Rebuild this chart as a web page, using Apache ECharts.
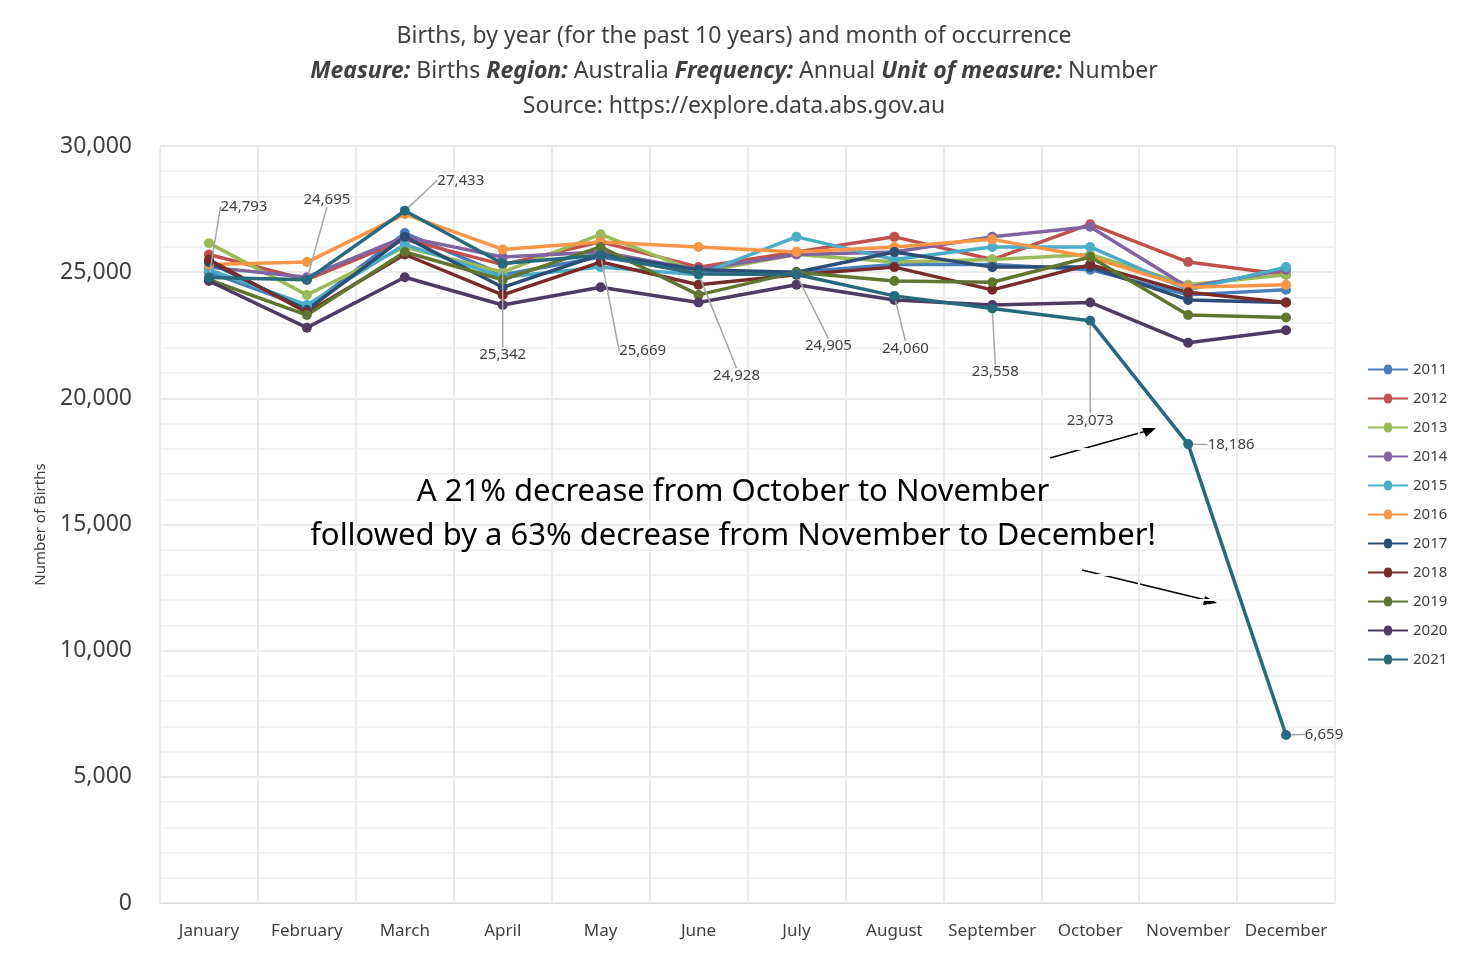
<!DOCTYPE html>
<html>
<head>
<meta charset="utf-8">
<script src="https://cdn.jsdelivr.net/npm/echarts@6/dist/echarts.min.js"></script>
<style>html,body{margin:0;padding:0;background:#fff}#chart{width:1468px;height:956px}</style>
</head>
<body>
<div id="chart"></div>
<script>
const months = ['January', 'February', 'March', 'April', 'May', 'June', 'July', 'August', 'September', 'October', 'November', 'December'];
const years = ['2011', '2012', '2013', '2014', '2015', '2016', '2017', '2018', '2019', '2020', '2021'];

const b2011 = [25000, 23600, 26550, 24900, 25600, 25000, 25000, 25300, 25300, 25100, 24100, 24300];
const b2012 = [25700, 24700, 26300, 25300, 26200, 25200, 25800, 26400, 25500, 26900, 25400, 24900];
const b2013 = [26150, 24100, 26000, 25000, 26500, 25000, 25700, 25400, 25500, 25700, 24500, 24900];
const b2014 = [25200, 24800, 26400, 25600, 25800, 25100, 25700, 25800, 26400, 26800, 24400, 25100];
const b2015 = [25100, 23700, 26100, 24800, 25200, 24900, 26400, 25500, 26000, 26000, 24300, 25200];
const b2016 = [25300, 25400, 27300, 25900, 26200, 26000, 25800, 26000, 26300, 25600, 24400, 24500];
const b2017 = [25400, 23500, 26400, 24400, 25700, 25100, 25000, 25800, 25200, 25200, 23900, 23800];
const b2018 = [25500, 23400, 25700, 24100, 25400, 24500, 24900, 25200, 24300, 25300, 24200, 23800];
const b2019 = [24700, 23300, 25800, 24700, 26000, 24100, 25000, 24650, 24600, 25600, 23300, 23200];
const b2020 = [24650, 22800, 24800, 23700, 24400, 23800, 24500, 23900, 23700, 23800, 22200, 22700];
const b2021 = [24793, 24695, 27433, 25342, 25669, 24928, 24905, 24060, 23558, 23073, 18186, 6659];

const seriesData = [b2011, b2012, b2013, b2014, b2015, b2016, b2017, b2018, b2019, b2020, b2021];
const colors = ['#4a7ebb', '#c0504d', '#9bbb59', '#8064a2', '#4bacc6', '#f79646', '#2c4d75', '#772c2a', '#5f7530', '#4d3b62', '#276a7c'];

// label offsets for 2021 data labels (pixels)
const labelOffsets = [[35, -67], [20, -77], [56, -27], [0, 95], [42, 99], [38, 105], [32, 75], [11, 56], [3, 67], [0, 103], [43, 4], [38, 3]];

const myChart = echarts.init(document.getElementById('chart'));
const font = 'Noto Sans';

const series = years.map((y, i) => {
    const s = {
        name: y,
        type: 'line',
        data: seriesData[i],
        symbol: 'circle',
        symbolSize: 10,
        z: i === 10 ? 5 : 2,
        itemStyle: { color: colors[i] },
        lineStyle: { color: colors[i], width: 3.5 }
    };
    if (i === 10) {
        s.label = {
            show: true,
            fontFamily: font,
            fontSize: 15,
            color: '#404040',
            formatter: p => p.value.toLocaleString('en-US')
        };
        s.labelLine = { show: true, lineStyle: { color: '#a6a6a6', width: 1.5 } };
        s.labelLayout = function (params) {
            const o = labelOffsets[params.dataIndex];
            return { dx: o[0], dy: o[1] + 14 };
        };
    }
    return s;
});

myChart.setOption({
    animation: false,
    textStyle: { fontFamily: font },
    title: {
        left: 'center',
        top: 14,
        text: 'Births, by year (for the past 10 years) and month of occurrence\n' +
            '{b|Measure:} Births {b|Region:} Australia {b|Frequency:} Annual {b|Unit of measure:} Number\n' +
            'Source: https://explore.data.abs.gov.au',
        textStyle: {
            fontFamily: font, fontSize: 23, fontWeight: 'normal', color: '#404040', lineHeight: 35,
            rich: { b: { fontFamily: font, fontSize: 23, fontWeight: 'bold', fontStyle: 'italic', color: '#404040', lineHeight: 35 } }
        }
    },
    legend: {
        orient: 'vertical',
        left: 1363,
        top: 357,
        itemGap: 14,
        itemWidth: 40,
        itemHeight: 20,
        data: years.map(y => ({ name: y, icon: 'path://M0,9H16A4,4 0 0,1 24,9H40V11H24A4,4 0 0,1 16,11H0Z' })),
        textStyle: { fontFamily: font, fontSize: 15, color: '#404040', padding: [0, 0, 0, 0] }
    },
    grid: { left: 160, right: 133, top: 146, bottom: 53 },
    xAxis: {
        type: 'category',
        data: months,
        boundaryGap: true,
        axisLine: { lineStyle: { color: '#d9d9d9' } },
        axisTick: { show: false },
        axisLabel: { fontFamily: font, fontSize: 17, color: '#404040', margin: 20, interval: 0 },
        splitLine: { show: true, interval: 0, lineStyle: { color: '#ebebeb', width: 2 } }
    },
    yAxis: {
        type: 'value',
        min: 0,
        max: 30000,
        interval: 5000,
        name: 'Number of Births',
        nameLocation: 'middle',
        nameGap: 112,
        nameTextStyle: { fontFamily: font, fontSize: 15, color: '#404040' },
        axisLine: { show: false },
        axisTick: { show: false },
        axisLabel: { fontFamily: font, fontSize: 23, color: '#404040', margin: 28, formatter: v => v.toLocaleString('en-US') },
        splitLine: { lineStyle: { color: '#ebebeb', width: 2 } },
        minorTick: { show: false, splitNumber: 5 },
        minorSplitLine: { show: true, lineStyle: { color: '#f2f2f2', width: 2 } }
    },
    graphic: [
        {
            type: 'text', x: 733, y: 470, z: 100,
            style: {
                text: 'A 21% decrease from October to November\nfollowed by a 63% decrease from November to December!',
                font: '31px "Noto Sans"', fill: '#000', align: 'center', lineHeight: 44
            }
        },
        { type: 'line', shape: { x1: 1050, y1: 458, x2: 1150, y2: 430 }, style: { stroke: '#000', lineWidth: 1.5 } },
        { type: 'polygon', shape: { points: [[1156, 428], [1142, 428], [1146, 437]] }, style: { fill: '#000' } },
        { type: 'line', shape: { x1: 1082, y1: 570, x2: 1210, y2: 601 }, style: { stroke: '#000', lineWidth: 1.5 } },
        { type: 'polygon', shape: { points: [[1217, 603], [1205, 596], [1203, 605]] }, style: { fill: '#000' } }
    ],
    series: series
});
</script>
</body>
</html>
